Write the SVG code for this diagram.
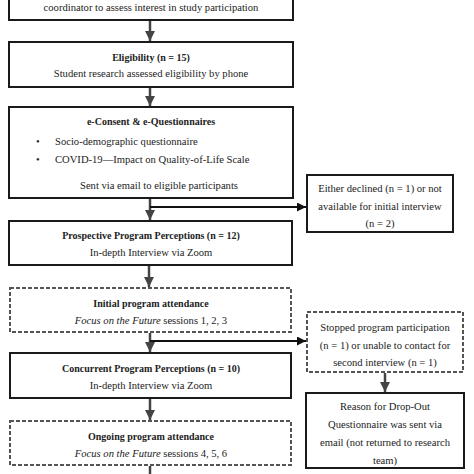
<svg xmlns="http://www.w3.org/2000/svg" width="474" height="474" viewBox="0 0 474 474">
<defs>
<style>
.box{fill:#fff;stroke:#1a1a1a;stroke-width:2}
.dbox{fill:#fff;stroke:#555;stroke-width:2;stroke-dasharray:4 2}
.t{font-family:"Liberation Serif","Times New Roman",serif;font-size:10.6px;fill:#222;text-anchor:middle}
.b{font-weight:bold;font-size:10px}
.l{text-anchor:start}
.v{stroke:#444;stroke-width:2.5;fill:none}
.h{stroke:#111;stroke-width:2;fill:none}
</style>
<marker id="ah" viewBox="0 0 10 10" refX="10" refY="5" markerWidth="4" markerHeight="4" orient="auto" markerUnits="strokeWidth">
<path d="M0,0 L10,5 L0,10 z" fill="#444"/>
</marker>
<marker id="ahk" viewBox="0 0 10 10" refX="10" refY="5" markerWidth="4.5" markerHeight="4.5" orient="auto" markerUnits="strokeWidth">
<path d="M0,0 L10,5 L0,10 z" fill="#111"/>
</marker>
</defs>
<rect width="474" height="474" fill="#fff"/>
<g id="connectors">
<line class="v" x1="150" y1="21" x2="150" y2="41" marker-end="url(#ah)"/>
<line class="v" x1="150" y1="88" x2="150" y2="106" marker-end="url(#ah)"/>
<line class="v" x1="150" y1="199" x2="150" y2="220" marker-end="url(#ah)"/>
<line class="h" x1="150" y1="207" x2="306" y2="207" marker-end="url(#ahk)"/>
<line class="v" x1="149" y1="266" x2="149" y2="287" marker-end="url(#ah)"/>
<line class="v" x1="150" y1="333" x2="150" y2="352" marker-end="url(#ah)"/>
<line class="h" x1="150" y1="341" x2="306" y2="341" marker-end="url(#ahk)"/>
<line class="v" x1="385" y1="373" x2="385" y2="392" marker-end="url(#ah)"/>
<line class="v" x1="150" y1="399" x2="150" y2="420" marker-end="url(#ah)"/>
<line class="v" x1="150" y1="466" x2="150" y2="476"/>
</g>
<g id="n-contact">
<rect class="box" x="9" y="-30" width="284" height="50"/>
<text class="t" x="151" y="10.5">coordinator to assess interest in study participation</text>
</g>
<g id="n-eligibility">
<rect class="box" x="9" y="42" width="284" height="45"/>
<text class="t b" x="151" y="60.5">Eligibility (n = 15)</text>
<text class="t" x="151" y="76.5">Student research assessed eligibility by phone</text>
</g>
<g id="n-consent">
<rect class="box" x="9" y="107" width="284" height="91"/>
<text class="t b" x="151" y="125">e-Consent &amp; e-Questionnaires</text>
<text class="t l" x="36" y="144.5">•</text>
<text class="t l" x="55" y="144.5">Socio-demographic questionnaire</text>
<text class="t l" x="36" y="162.5">•</text>
<text class="t l" x="55" y="162.5">COVID-19—Impact on Quality-of-Life Scale</text>
<text class="t" x="159" y="188.5">Sent via email to eligible participants</text>
</g>
<g id="n-declined">
<rect class="box" x="307" y="175" width="146" height="57"/>
<text class="t" x="380" y="191.5">Either declined (n = 1) or not</text>
<text class="t" x="380" y="209.5">available for initial interview</text>
<text class="t" x="380" y="226.5">(n = 2)</text>
</g>
<g id="n-prospective">
<rect class="box" x="9" y="221" width="283" height="44"/>
<text class="t b" x="151" y="238.5">Prospective Program Perceptions (n = 12)</text>
<text class="t" x="151" y="255.5">In-depth Interview via Zoom</text>
</g>
<g id="n-initial">
<rect class="dbox" x="10" y="288" width="281" height="44"/>
<text class="t b" x="151" y="306.5">Initial program attendance</text>
<text class="t" x="151" y="323.5"><tspan font-style="italic">Focus on the Future</tspan> sessions 1, 2, 3</text>
</g>
<g id="n-stopped">
<rect class="dbox" x="307" y="312" width="156" height="60"/>
<text class="t" x="385" y="330.5">Stopped program participation</text>
<text class="t" x="385" y="348.5">(n = 1) or unable to contact for</text>
<text class="t" x="385" y="365.5">second interview (n = 1)</text>
</g>
<g id="n-concurrent">
<rect class="box" x="10" y="353" width="281" height="45"/>
<text class="t b" x="151" y="371.5">Concurrent Program Perceptions (n = 10)</text>
<text class="t" x="151" y="388.5">In-depth Interview via Zoom</text>
</g>
<g id="n-reason">
<rect class="box" x="306" y="393" width="158" height="75"/>
<text class="t" x="385" y="409.5">Reason for Drop-Out</text>
<text class="t" x="385" y="427.5">Questionnaire was sent via</text>
<text class="t" x="385" y="445.5">email (not returned to research</text>
<text class="t" x="385" y="463.5">team)</text>
</g>
<g id="n-ongoing">
<rect class="dbox" x="10" y="421" width="281" height="44"/>
<text class="t b" x="151" y="439.5">Ongoing program attendance</text>
<text class="t" x="151" y="456.5"><tspan font-style="italic">Focus on the Future</tspan> sessions 4, 5, 6</text>
</g>
</svg>
